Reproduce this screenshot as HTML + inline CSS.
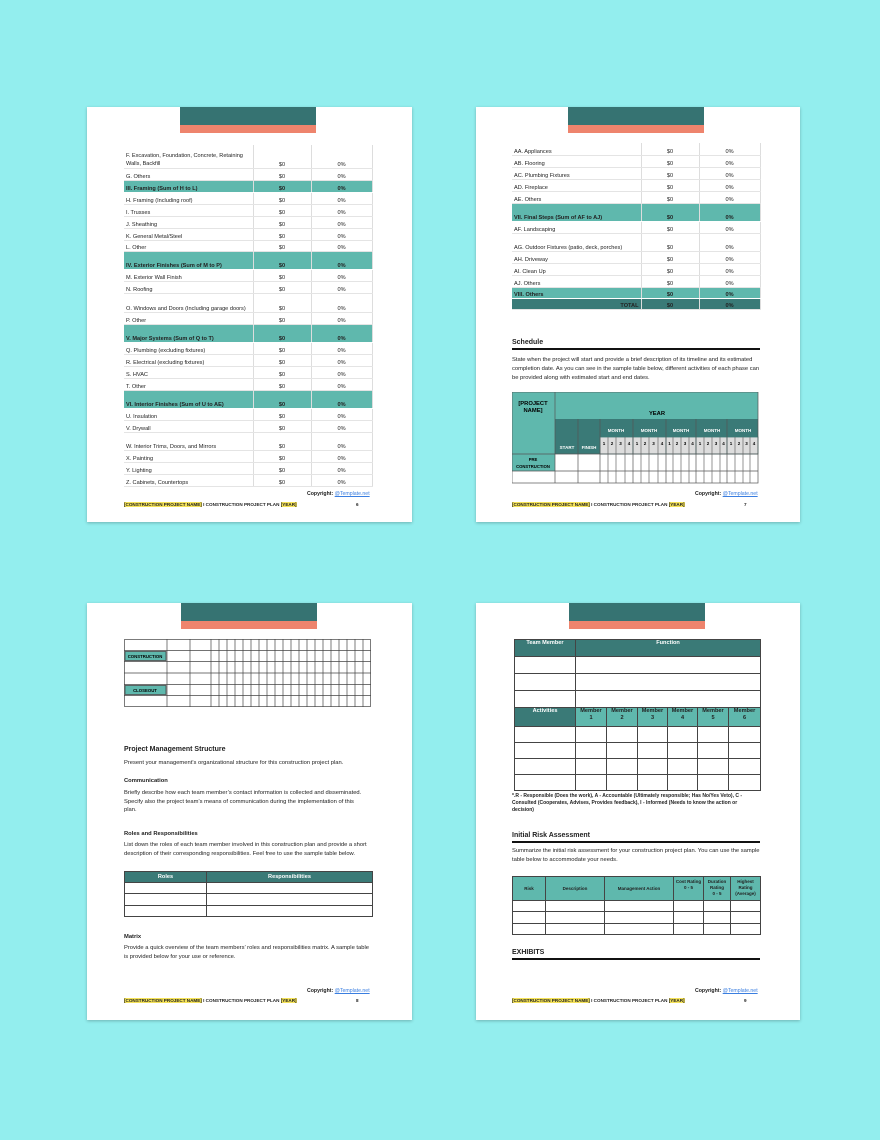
<!DOCTYPE html>
<html><head><meta charset="utf-8">
<style>
*{margin:0;padding:0;box-sizing:border-box}
body{width:880px;height:1140px;background:#93eeee;position:relative;overflow:hidden;font-family:"Liberation Sans",sans-serif;color:#222}
.pg{position:absolute;background:#fff;box-shadow:0 1px 3px rgba(0,0,0,.25)}
.hb{position:absolute;height:18px;background:#367372;width:136px}
.sb{position:absolute;height:8px;background:#ee846d;width:136px}
.a{position:absolute;font-size:5.8px;line-height:7px;white-space:nowrap}
table{position:absolute;border-collapse:collapse;table-layout:fixed;font-size:5.6px}
td{padding:0 2px;vertical-align:bottom;white-space:nowrap;overflow:hidden}
.bt td{border-bottom:1px solid #e4e4e4;border-right:1px solid #ddd}
.bt td:nth-child(2),.bt td:nth-child(3){text-align:center}
.bt tr.t td{background:#5fb8ad;font-weight:bold;border-bottom:1px solid #fff}
.bt tr.d td{background:#3a7a77;font-weight:bold}
.g td{border:1px solid #444;padding:0}
.h{font-weight:bold;font-size:7px}
.ln{position:absolute;height:2px;background:#111}
.ft{position:absolute;font-size:4.6px;font-weight:bold;white-space:nowrap}
.ft span{background:#f5e35a}
.cp{position:absolute;font-size:5.2px;font-weight:bold}
.cp u{color:#3a7ee0;font-weight:normal}
</style></head><body>

<!-- PAGE 1 -->
<div class="pg" style="left:87px;top:107px;width:325px;height:415px"></div>
<div class="hb" style="left:180px;top:107px"></div><div class="sb" style="left:180px;top:125px"></div>
<table class="bt" style="left:124px;top:145px;width:248px">
<colgroup><col style="width:129px"><col style="width:58px"><col style="width:61px"></colgroup>
<tr style="height:23px"><td style="white-space:normal;line-height:8px">F. Excavation, Foundation, Concrete, Retaining Walls, Backfill</td><td>$0</td><td>0%</td></tr>
<tr style="height:12px"><td>G. Others</td><td>$0</td><td>0%</td></tr>
<tr class="t" style="height:12px"><td>III. Framing (Sum of H to L)</td><td>$0</td><td>0%</td></tr>
<tr style="height:12px"><td>H. Framing (Including roof)</td><td>$0</td><td>0%</td></tr>
<tr style="height:12px"><td>I. Trusses</td><td>$0</td><td>0%</td></tr>
<tr style="height:12px"><td>J. Sheathing</td><td>$0</td><td>0%</td></tr>
<tr style="height:12px"><td>K. General Metal/Steel</td><td>$0</td><td>0%</td></tr>
<tr style="height:11px"><td>L. Other</td><td>$0</td><td>0%</td></tr>
<tr class="t" style="height:18px"><td>IV. Exterior Finishes (Sum of M to P)</td><td>$0</td><td>0%</td></tr>
<tr style="height:12px"><td>M. Exterior Wall Finish</td><td>$0</td><td>0%</td></tr>
<tr style="height:12px"><td>N. Roofing</td><td>$0</td><td>0%</td></tr>
<tr style="height:19px"><td>O. Windows and Doors (Including garage doors)</td><td>$0</td><td>0%</td></tr>
<tr style="height:12px"><td>P. Other</td><td>$0</td><td>0%</td></tr>
<tr class="t" style="height:18px"><td>V. Major Systems (Sum of Q to T)</td><td>$0</td><td>0%</td></tr>
<tr style="height:12px"><td>Q. Plumbing (excluding fixtures)</td><td>$0</td><td>0%</td></tr>
<tr style="height:12px"><td>R. Electrical (excluding fixtures)</td><td>$0</td><td>0%</td></tr>
<tr style="height:12px"><td>S. HVAC</td><td>$0</td><td>0%</td></tr>
<tr style="height:12px"><td>T. Other</td><td>$0</td><td>0%</td></tr>
<tr class="t" style="height:18px"><td>VI. Interior Finishes (Sum of U to AE)</td><td>$0</td><td>0%</td></tr>
<tr style="height:12px"><td>U. Insulation</td><td>$0</td><td>0%</td></tr>
<tr style="height:12px"><td>V. Drywall</td><td>$0</td><td>0%</td></tr>
<tr style="height:18px"><td>W. Interior Trims, Doors, and Mirrors</td><td>$0</td><td>0%</td></tr>
<tr style="height:12px"><td>X. Painting</td><td>$0</td><td>0%</td></tr>
<tr style="height:12px"><td>Y. Lighting</td><td>$0</td><td>0%</td></tr>
<tr style="height:12px"><td>Z. Cabinets, Countertops</td><td>$0</td><td>0%</td></tr>
</table>
<div class="cp" style="left:307px;top:491px">Copyright: <u>@Template.net</u></div>
<div class="ft" style="left:124px;top:502px"><span>[CONSTRUCTION PROJECT NAME]</span> I CONSTRUCTION PROJECT PLAN <span>[YEAR]</span></div>
<div class="ft" style="left:356px;top:502px">6</div>

<!-- PAGE 2 -->
<div class="pg" style="left:476px;top:107px;width:324px;height:415px"></div>
<div class="hb" style="left:568px;top:107px"></div><div class="sb" style="left:568px;top:125px"></div>
<table class="bt" style="left:512px;top:143px;width:248px">
<colgroup><col style="width:129px"><col style="width:58px"><col style="width:61px"></colgroup>
<tr style="height:12px"><td>AA. Appliances</td><td>$0</td><td>0%</td></tr>
<tr style="height:12px"><td>AB. Flooring</td><td>$0</td><td>0%</td></tr>
<tr style="height:12px"><td>AC. Plumbing Fixtures</td><td>$0</td><td>0%</td></tr>
<tr style="height:12px"><td>AD. Fireplace</td><td>$0</td><td>0%</td></tr>
<tr style="height:12px"><td>AE. Others</td><td>$0</td><td>0%</td></tr>
<tr class="t" style="height:18px"><td>VII. Final Steps (Sum of AF to AJ)</td><td>$0</td><td>0%</td></tr>
<tr style="height:12px"><td>AF. Landscaping</td><td>$0</td><td>0%</td></tr>
<tr style="height:18px"><td>AG. Outdoor Fixtures (patio, deck, porches)</td><td>$0</td><td>0%</td></tr>
<tr style="height:12px"><td>AH. Driveway</td><td>$0</td><td>0%</td></tr>
<tr style="height:12px"><td>AI. Clean Up</td><td>$0</td><td>0%</td></tr>
<tr style="height:12px"><td>AJ. Others</td><td>$0</td><td>0%</td></tr>
<tr class="t" style="height:11px"><td>VIII. Others</td><td>$0</td><td>0%</td></tr>
<tr class="d" style="height:11px"><td style="text-align:right">TOTAL</td><td>$0</td><td>0%</td></tr>
</table>
<div class="a h" style="left:512px;top:339px">Schedule</div>
<div class="ln" style="left:512px;top:348px;width:248px"></div>
<div class="a" style="left:512px;top:356px;line-height:9px">State when the project will start and provide a brief description of its timeline and its estimated<br>completion date. As you can see in the sample table below, different activities of each phase can<br>be provided along with estimated start and end dates.</div>
<svg style="position:absolute;left:512px;top:392px" width="248" height="92" font-family="Liberation Sans" font-weight="bold" font-size="4.5">
<rect x="0" y="0" width="246" height="62" fill="#3a7a77"/>
<rect x="0" y="0" width="43" height="79" fill="#5fb8ad"/>
<rect x="43" y="0" width="203" height="27" fill="#5fb8ad"/>
<g fill="#ddd" stroke="#3a7a77" stroke-width="0.8">
<rect x="88" y="45" width="33" height="17"/><rect x="121" y="45" width="33" height="17"/><rect x="154" y="45" width="30" height="17"/><rect x="184" y="45" width="31" height="17"/><rect x="215" y="45" width="31" height="17"/>
</g>
<g stroke="#555" stroke-width="0.7" fill="none">
<rect x="0" y="0" width="246" height="91"/>
<line x1="0" y1="62" x2="246" y2="62"/><line x1="0" y1="79" x2="246" y2="79"/>
<line x1="43" y1="0" x2="43" y2="91"/><line x1="66" y1="27" x2="66" y2="91"/><line x1="88" y1="27" x2="88" y2="91"/>
<line x1="121" y1="27" x2="121" y2="91"/><line x1="154" y1="27" x2="154" y2="91"/><line x1="184" y1="27" x2="184" y2="91"/><line x1="215" y1="27" x2="215" y2="91"/>
<g stroke="#666"><line x1="96" y1="45" x2="96" y2="91"/><line x1="104" y1="45" x2="104" y2="91"/><line x1="113" y1="45" x2="113" y2="91"/>
<line x1="129" y1="45" x2="129" y2="91"/><line x1="137" y1="45" x2="137" y2="91"/><line x1="146" y1="45" x2="146" y2="91"/>
<line x1="161" y1="45" x2="161" y2="91"/><line x1="169" y1="45" x2="169" y2="91"/><line x1="177" y1="45" x2="177" y2="91"/>
<line x1="192" y1="45" x2="192" y2="91"/><line x1="200" y1="45" x2="200" y2="91"/><line x1="208" y1="45" x2="208" y2="91"/>
<line x1="223" y1="45" x2="223" y2="91"/><line x1="231" y1="45" x2="231" y2="91"/><line x1="238" y1="45" x2="238" y2="91"/></g>
</g>
<text x="21" y="13" text-anchor="middle" font-size="5.8">[PROJECT</text><text x="21" y="20" text-anchor="middle" font-size="5.8">NAME]</text>
<text x="145" y="23" text-anchor="middle" font-size="5.8">YEAR</text>
<g fill="#fff"><text x="55" y="57" text-anchor="middle">START</text><text x="77" y="57" text-anchor="middle">FINISH</text>
<text x="104" y="40" text-anchor="middle">MONTH</text><text x="137" y="40" text-anchor="middle">MONTH</text><text x="169" y="40" text-anchor="middle">MONTH</text><text x="200" y="40" text-anchor="middle">MONTH</text><text x="231" y="40" text-anchor="middle">MONTH</text></g>
<g font-size="4.5" text-anchor="middle">
<text x="92" y="53">1</text><text x="100" y="53">2</text><text x="108.5" y="53">3</text><text x="117" y="53">4</text>
<text x="125" y="53">1</text><text x="133" y="53">2</text><text x="141.5" y="53">3</text><text x="150" y="53">4</text>
<text x="157.5" y="53">1</text><text x="165" y="53">2</text><text x="173" y="53">3</text><text x="180.5" y="53">4</text>
<text x="188" y="53">1</text><text x="196" y="53">2</text><text x="204" y="53">3</text><text x="211.5" y="53">4</text>
<text x="219" y="53">1</text><text x="227" y="53">2</text><text x="234.5" y="53">3</text><text x="242" y="53">4</text>
</g>
<text x="21" y="69" text-anchor="middle" font-size="4.2">PRE</text><text x="21" y="76" text-anchor="middle" font-size="4.2">CONSTRUCTION</text>
</svg>
<div class="cp" style="left:695px;top:491px">Copyright: <u>@Template.net</u></div>
<div class="ft" style="left:512px;top:502px"><span>[CONSTRUCTION PROJECT NAME]</span> I CONSTRUCTION PROJECT PLAN <span>[YEAR]</span></div>
<div class="ft" style="left:744px;top:502px">7</div>

<!-- PAGE 3 -->
<div class="pg" style="left:87px;top:603px;width:325px;height:417px"></div>
<div class="hb" style="left:181px;top:603px"></div><div class="sb" style="left:181px;top:621px"></div>
<svg style="position:absolute;left:124px;top:639px" width="250" height="70" font-family="Liberation Sans" font-weight="bold" font-size="4.3">
<rect x="1" y="12.5" width="41" height="9" fill="#5fb8ad" stroke="#333" stroke-width=".7"/>
<rect x="1" y="46.5" width="41" height="9" fill="#5fb8ad" stroke="#333" stroke-width=".7"/>
<text x="21" y="19" text-anchor="middle">CONSTRUCTION</text><text x="21" y="53" text-anchor="middle">CLOSEOUT</text>
<g stroke="#444" stroke-width=".7" fill="none">
<rect x=".5" y=".5" width="246" height="67"/>
<line x1="0" y1="11.5" x2="247" y2="11.5"/><line x1="0" y1="22.5" x2="247" y2="22.5"/><line x1="0" y1="34" x2="247" y2="34"/><line x1="0" y1="45.5" x2="247" y2="45.5"/><line x1="0" y1="56.5" x2="247" y2="56.5"/>
<line x1="43" y1="0" x2="43" y2="68"/><line x1="66" y1="0" x2="66" y2="68"/><line x1="87" y1="0" x2="87" y2="68"/>
<line x1="95" y1="0" x2="95" y2="68"/><line x1="103" y1="0" x2="103" y2="68"/><line x1="111" y1="0" x2="111" y2="68"/><line x1="119" y1="0" x2="119" y2="68"/><line x1="127" y1="0" x2="127" y2="68"/><line x1="135" y1="0" x2="135" y2="68"/><line x1="143" y1="0" x2="143" y2="68"/><line x1="151" y1="0" x2="151" y2="68"/><line x1="159" y1="0" x2="159" y2="68"/><line x1="167" y1="0" x2="167" y2="68"/><line x1="175" y1="0" x2="175" y2="68"/><line x1="183" y1="0" x2="183" y2="68"/><line x1="191" y1="0" x2="191" y2="68"/><line x1="199" y1="0" x2="199" y2="68"/><line x1="207" y1="0" x2="207" y2="68"/><line x1="215" y1="0" x2="215" y2="68"/><line x1="223" y1="0" x2="223" y2="68"/><line x1="231" y1="0" x2="231" y2="68"/><line x1="239" y1="0" x2="239" y2="68"/>
</g></svg>
<div class="a h" style="left:124px;top:746px">Project Management Structure</div>
<div class="a" style="left:124px;top:760px">Present your management’s organizational structure for this construction project plan.</div>
<div class="a" style="left:124px;top:778px;font-weight:bold">Communication</div>
<div class="a" style="left:124px;top:789px;line-height:8.5px">Briefly describe how each team member’s contact information is collected and disseminated.<br>Specify also the project team’s means of communication during the implementation of this<br>plan.</div>
<div class="a" style="left:124px;top:831px;font-weight:bold">Roles and Responsibilities</div>
<div class="a" style="left:124px;top:841px;line-height:9px">List down the roles of each team member involved in this construction plan and provide a short<br>description of their corresponding responsibilities. Feel free to use the sample table below.</div>
<table class="g" style="left:124px;top:871px;width:248px">
<colgroup><col style="width:82px"><col style="width:166px"></colgroup>
<tr style="height:11px;background:#3a7a77;color:#fff;font-weight:bold;text-align:center"><td style="vertical-align:middle">Roles</td><td style="vertical-align:middle">Responsibilities</td></tr>
<tr style="height:11px"><td></td><td></td></tr><tr style="height:12px"><td></td><td></td></tr><tr style="height:11px"><td></td><td></td></tr>
</table>
<div class="a" style="left:124px;top:934px;font-weight:bold">Matrix</div>
<div class="a" style="left:124px;top:944px;line-height:9px">Provide a quick overview of the team members’ roles and responsibilities matrix. A sample table<br>is provided below for your use or reference.</div>
<div class="cp" style="left:307px;top:988px">Copyright: <u>@Template.net</u></div>
<div class="ft" style="left:124px;top:998px"><span>[CONSTRUCTION PROJECT NAME]</span> I CONSTRUCTION PROJECT PLAN <span>[YEAR]</span></div>
<div class="ft" style="left:356px;top:998px">8</div>

<!-- PAGE 4 -->
<div class="pg" style="left:476px;top:603px;width:324px;height:417px"></div>
<div class="hb" style="left:569px;top:603px"></div><div class="sb" style="left:569px;top:621px"></div>
<table class="g" style="left:514px;top:639px;width:246px;font-weight:bold;text-align:center">
<colgroup><col style="width:61px"><col style="width:31px"><col style="width:31px"><col style="width:30px"><col style="width:30px"><col style="width:31px"><col style="width:32px"></colgroup>
<tr style="height:17px;background:#3a7a77;color:#fff"><td style="vertical-align:top">Team Member</td><td colspan="6" style="vertical-align:top">Function</td></tr>
<tr style="height:17px"><td></td><td colspan="6"></td></tr>
<tr style="height:17px"><td></td><td colspan="6"></td></tr>
<tr style="height:17px"><td></td><td colspan="6"></td></tr>
<tr style="height:19px;background:#5fb8ad;line-height:7px"><td style="background:#3a7a77;color:#fff;vertical-align:top">Activities</td><td style="vertical-align:top">Member<br>1</td><td style="vertical-align:top">Member<br>2</td><td style="vertical-align:top">Member<br>3</td><td style="vertical-align:top">Member<br>4</td><td style="vertical-align:top">Member<br>5</td><td style="vertical-align:top">Member<br>6</td></tr>
<tr style="height:16px"><td></td><td></td><td></td><td></td><td></td><td></td><td></td></tr>
<tr style="height:16px"><td></td><td></td><td></td><td></td><td></td><td></td><td></td></tr>
<tr style="height:16px"><td></td><td></td><td></td><td></td><td></td><td></td><td></td></tr>
<tr style="height:16px"><td></td><td></td><td></td><td></td><td></td><td></td><td></td></tr>
</table>
<div class="a" style="left:512px;top:793px;font-size:5px;line-height:7px;font-weight:bold">*.R - Responsible (Does the work), A - Accountable (Ultimately responsible; Has No/Yes Veto), C -<br>Consulted (Cooperates, Advises, Provides feedback), I - Informed (Needs to know the action or<br>decision)</div>
<div class="a h" style="left:512px;top:832px">Initial Risk Assessment</div>
<div class="ln" style="left:512px;top:841px;width:248px"></div>
<div class="a" style="left:512px;top:847px;line-height:9px">Summarize the initial risk assessment for your construction project plan. You can use the sample<br>table below to accommodate your needs.</div>
<table class="g" style="left:512px;top:876px;width:248px;font-weight:bold;text-align:center;font-size:4.5px">
<colgroup><col style="width:33px"><col style="width:59px"><col style="width:69px"><col style="width:30px"><col style="width:27px"><col style="width:30px"></colgroup>
<tr style="height:24px;background:#5fb8ad;line-height:6px"><td style="vertical-align:middle">Risk</td><td style="vertical-align:middle">Description</td><td style="vertical-align:middle">Management Action</td><td style="vertical-align:top;padding-top:2px">Cost Rating<br>0 - 5</td><td style="vertical-align:top;padding-top:2px">Duration<br>Rating<br>0 - 5</td><td style="vertical-align:top;padding-top:2px">Highest<br>Rating<br>(Average)</td></tr>
<tr style="height:11px"><td></td><td></td><td></td><td></td><td></td><td></td></tr>
<tr style="height:12px"><td></td><td></td><td></td><td></td><td></td><td></td></tr>
<tr style="height:11px"><td></td><td></td><td></td><td></td><td></td><td></td></tr>
</table>
<div class="a h" style="left:512px;top:949px">EXHIBITS</div>
<div class="ln" style="left:512px;top:958px;width:248px"></div>
<div class="cp" style="left:695px;top:988px">Copyright: <u>@Template.net</u></div>
<div class="ft" style="left:512px;top:998px"><span>[CONSTRUCTION PROJECT NAME]</span> I CONSTRUCTION PROJECT PLAN <span>[YEAR]</span></div>
<div class="ft" style="left:744px;top:998px">9</div>
</body></html>
